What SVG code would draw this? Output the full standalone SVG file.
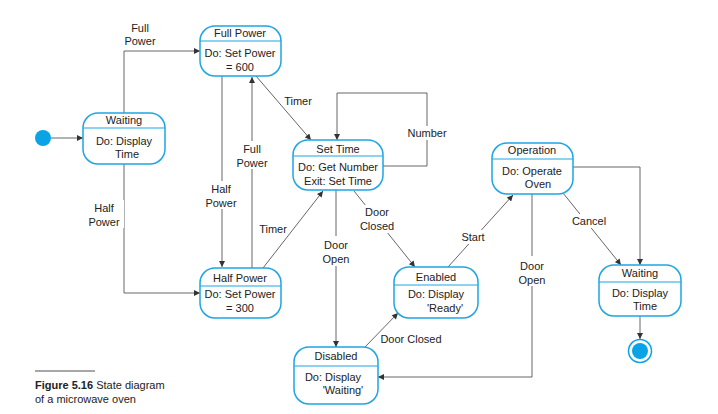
<svg xmlns="http://www.w3.org/2000/svg" width="718" height="414" viewBox="0 0 718 414">
<defs>
<marker id="arr" viewBox="0 0 10 10" refX="10" refY="5" markerWidth="8" markerHeight="6" markerUnits="userSpaceOnUse" orient="auto">
<path d="M0,0 L10,5 L0,10 z" fill="#333"/>
</marker>
</defs>
<style>
.st rect{fill:#fff;stroke:#1ea5e3;stroke-width:1.5}
.st line{stroke:#1ea5e3;stroke-width:1.2}
text{font-family:"Liberation Sans",Arial,sans-serif;font-size:11px;fill:#222;text-anchor:middle}
.c{fill:none;stroke:#555;stroke-width:0.9;marker-end:url(#arr)}
.cap{text-anchor:start;font-size:11px}
.bg{fill:#fff}
</style>
<rect width="718" height="414" fill="#fff"/>
<g id="connectors">
<line class="c" x1="51" y1="138" x2="83" y2="138"/>
<polyline class="c" points="124,113 124,51 200,51"/>
<polyline class="c" points="124,164 124,293 200,293"/>
<line class="c" x1="222" y1="76" x2="222" y2="267"/>
<line class="c" x1="252" y1="268" x2="252" y2="77"/>
<line class="c" x1="256" y1="76" x2="311" y2="140"/>
<line class="c" x1="263" y1="268" x2="323" y2="191"/>
<polyline class="c" points="383,166 427,166 427,93 337,93 337,140"/>
<line class="c" x1="336" y1="190" x2="336" y2="347"/>
<line class="c" x1="354" y1="191" x2="415" y2="267"/>
<line class="c" x1="448" y1="267" x2="513" y2="195"/>
<polyline class="c" points="532,194 532,377 378,377"/>
<line class="c" x1="365" y1="347" x2="398" y2="313"/>
<line class="c" x1="563" y1="193" x2="621" y2="265"/>
<polyline class="c" points="573,167 640,167 640,265"/>
<line class="c" x1="640" y1="316" x2="640" y2="339"/>
</g>
<g id="labels">
<rect class="bg" x="118" y="20" width="44" height="26"/>
<text x="140" y="32">Full</text><text x="140" y="45">Power</text>
<rect class="bg" x="84" y="200" width="40" height="28"/>
<text x="104" y="212">Half</text><text x="104" y="226">Power</text>
<rect class="bg" x="203" y="181" width="38" height="28"/>
<text x="221" y="193">Half</text><text x="221" y="207">Power</text>
<rect class="bg" x="234" y="141" width="38" height="28"/>
<text x="252" y="153">Full</text><text x="252" y="167">Power</text>
<text x="298" y="105">Timer</text>
<text x="273" y="233">Timer</text>
<rect class="bg" x="406" y="126" width="42" height="14"/>
<text x="427" y="137">Number</text>
<rect class="bg" x="318" y="236" width="36" height="30"/>
<text x="336" y="249">Door</text><text x="336" y="263">Open</text>
<rect class="bg" x="360" y="205" width="36" height="28"/>
<text x="377" y="216">Door</text><text x="377" y="230">Closed</text>
<rect class="bg" x="460" y="230" width="28" height="14"/>
<text x="473" y="241">Start</text>
<rect class="bg" x="514" y="256" width="36" height="30"/>
<text x="532" y="270">Door</text><text x="532" y="284">Open</text>
<text x="411" y="343">Door Closed</text>
<rect class="bg" x="571" y="214" width="36" height="14"/>
<text x="589" y="225">Cancel</text>
</g>
<g id="initial"><circle cx="43" cy="138" r="8" fill="#0aa4e6"/></g>
<g id="waiting1" class="st">
<rect x="83" y="113" width="82" height="51" rx="15"/>
<line x1="83" y1="128" x2="165" y2="128"/>
<text x="124" y="124">Waiting</text>
<text x="124" y="145">Do: Display</text>
<text x="127" y="158">Time</text>
</g>
<g id="fullpower" class="st">
<rect x="200" y="26" width="81" height="50" rx="15"/>
<line x1="200" y1="41" x2="281" y2="41"/>
<text x="240" y="37">Full Power</text>
<text x="240" y="57">Do: Set Power</text>
<text x="240" y="71">= 600</text>
</g>
<g id="halfpower" class="st">
<rect x="200" y="268" width="81" height="50" rx="15"/>
<line x1="200" y1="286" x2="281" y2="286"/>
<text x="240" y="282">Half Power</text>
<text x="240" y="298">Do: Set Power</text>
<text x="240" y="312">= 300</text>
</g>
<g id="settime" class="st">
<rect x="293" y="140" width="90" height="50" rx="15"/>
<line x1="293" y1="156" x2="383" y2="156"/>
<text x="338" y="153">Set Time</text>
<text x="338" y="171">Do: Get Number</text>
<text x="338" y="185">Exit: Set Time</text>
</g>
<g id="enabled" class="st">
<rect x="394" y="267" width="84" height="51" rx="15"/>
<line x1="394" y1="285" x2="478" y2="285"/>
<text x="436" y="281">Enabled</text>
<text x="436" y="298">Do: Display</text>
<text x="445" y="312">'Ready'</text>
</g>
<g id="disabled" class="st">
<rect x="294" y="347" width="84" height="57" rx="15"/>
<line x1="294" y1="366" x2="378" y2="366"/>
<text x="336" y="360">Disabled</text>
<text x="333" y="381">Do: Display</text>
<text x="343" y="394">'Waiting'</text>
</g>
<g id="operation" class="st">
<rect x="492" y="143" width="81" height="51" rx="15"/>
<line x1="492" y1="159" x2="573" y2="159"/>
<text x="532" y="154">Operation</text>
<text x="532" y="175">Do: Operate</text>
<text x="538" y="188">Oven</text>
</g>
<g id="waiting2" class="st">
<rect x="599" y="265" width="82" height="51" rx="15"/>
<line x1="599" y1="282" x2="681" y2="282"/>
<text x="640" y="277">Waiting</text>
<text x="640" y="297">Do: Display</text>
<text x="645" y="310">Time</text>
</g>
<g id="final">
<circle cx="640" cy="351" r="11.5" fill="#fff" stroke="#0aa4e6" stroke-width="1.5"/>
<circle cx="640" cy="351" r="8" fill="#0aa4e6"/>
</g>
<g id="caption">
<line x1="35" y1="371" x2="95" y2="371" stroke="#222" stroke-width="0.8"/>
<text class="cap" x="35" y="389"><tspan font-weight="bold">Figure 5.16</tspan>  State diagram</text>
<text class="cap" x="35" y="403">of a microwave oven</text>
</g>
</svg>
